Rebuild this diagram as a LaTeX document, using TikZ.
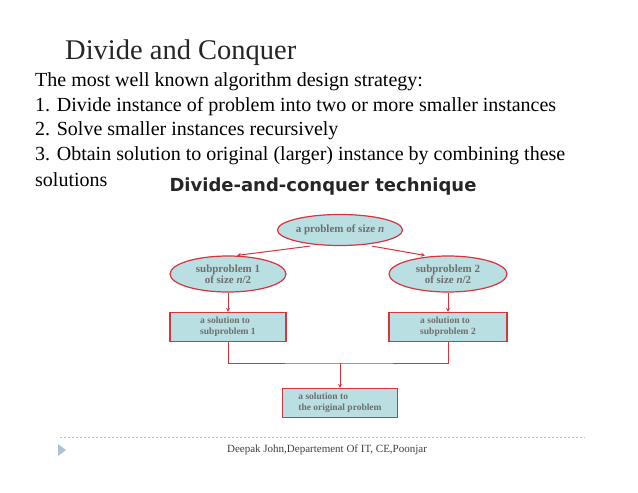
\documentclass[tikz,border=0pt]{standalone}
\usepackage{fontspec}
\setmainfont{Liberation Serif}
\newfontfamily\dsans{DejaVu Sans}
\usetikzlibrary{shapes.geometric,arrows.meta}
\definecolor{fillc}{HTML}{B9DFE3}
\definecolor{redc}{HTML}{D8343C}
\definecolor{txtc}{HTML}{6E6E6E}
\definecolor{dotc}{HTML}{A9C3D3}
\tikzset{
  ell/.style={ellipse,draw=redc,line width=1.2pt,fill=fillc,text=txtc,font=\fontsize{11}{11}\selectfont\bfseries,align=center,inner sep=0pt},
  rbox/.style={rectangle,draw=redc,line width=1.2pt,fill=fillc,text=txtc,font=\fontsize{9.5}{11}\selectfont\bfseries,align=left,inner sep=0pt},
  conn/.style={redc,line width=1pt,-{Stealth[length=4pt,width=4pt]}},
  plain/.style={redc,line width=1pt},
  body/.style={anchor=west,font=\fontsize{20}{20}\selectfont,inner sep=0pt}
}
\begin{document}
\begin{tikzpicture}[x=1pt,y=-1pt]
\useasboundingbox[fill=white] (0,0) rectangle (638,493);
\node[anchor=west,inner sep=0pt,font=\fontsize{28.5}{30}\selectfont,text=black!85] (title) at (65,53) {Divide and Conquer};
\node[body] (l1) at (35,82) {The most well known algorithm design strategy:};
\node[body] (l2) at (35,107) {1. Divide instance of problem into two or more smaller instances};
\node[body] (l3) at (35,131) {2. Solve smaller instances recursively};
\node[body] (l4) at (35,156) {3. Obtain solution to original (larger) instance by combining these};
\node[body] (l5) at (35,180) {solutions};
\node[font=\dsans\bfseries\fontsize{18}{20}\selectfont,text=black!85,inner sep=0pt] (head) at (323,187) {Divide-and-conquer technique};
\node[ell,minimum width=117pt,minimum height=31pt] (top) at (340,230) {a problem of size \textit{n}};
\node[ell,minimum width=116pt,minimum height=36pt] (s1) at (228,274) {subproblem 1\\of size \textit{n}/2};
\node[ell,minimum width=118pt,minimum height=36pt] (s2) at (448,274) {subproblem 2\\of size \textit{n}/2};
\node[rbox,minimum width=116pt,minimum height=29pt] (r1) at (228,327) {a solution to\\subproblem 1};
\node[rbox,minimum width=118pt,minimum height=29pt] (r2) at (448,327) {a solution to\\subproblem 2};
\node[rbox,minimum width=115pt,minimum height=29pt] (r3) at (340,403) {a solution to\\the original problem};
\coordinate (m) at (340,363);
\draw[conn] ([xshift=-30pt]top.south) -- ([xshift=9pt]s1.north);
\draw[conn] ([xshift=32pt]top.south) -- ([xshift=-23pt]s2.north);
\draw[conn] (s1.south) -- (r1.north);
\draw[conn] (s2.south) -- (r2.north);
\draw[plain] (r1.south) |- (m) -| (r2.south);
\draw[conn] (m) -- (r3.north);
\draw[dotc,line width=0.8pt,dash pattern=on 2pt off 2pt] (60,437) coordinate (d1) -- (585,437) coordinate (d2);
\fill[dotc] (58,444) -- (66,450) -- (58,456) -- cycle;
\node[font=\fontsize{11}{12}\selectfont,text=black!75,inner sep=0pt] (foot) at (327,450) {Deepak John,Departement Of IT, CE,Poonjar};
\end{tikzpicture}
\end{document}
